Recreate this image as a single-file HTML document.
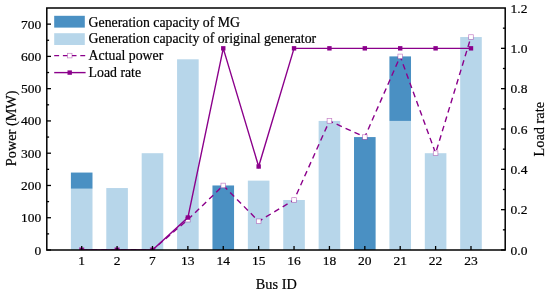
<!DOCTYPE html>
<html><head><meta charset="utf-8"><title>chart</title>
<style>
html,body{margin:0;padding:0;background:#fff;}
svg{display:block}
text{font-family:"Liberation Serif","Times New Roman",serif;font-size:13.5px;fill:#000;stroke:#000;stroke-width:0.2px}
.lg{font-size:13.8px}
.ax{font-size:14.3px}
</style></head><body>
<svg width="550" height="292" viewBox="0 0 550 292">
<rect width="550" height="292" fill="#fff"/>
<defs><clipPath id="c"><rect x="46.8" y="8.0" width="458.4" height="242.0"/></clipPath></defs>

<rect x="70.90" y="188.69" width="21.6" height="61.31" fill="#b7d6ea"/>
<rect x="70.90" y="172.56" width="21.6" height="16.13" fill="#4a90c3"/>
<rect x="106.29" y="188.05" width="21.6" height="61.95" fill="#b7d6ea"/>
<rect x="141.68" y="153.20" width="21.6" height="96.80" fill="#b7d6ea"/>
<rect x="177.07" y="59.30" width="21.6" height="190.70" fill="#b7d6ea"/>
<rect x="212.46" y="185.47" width="21.6" height="64.53" fill="#4a90c3"/>
<rect x="247.85" y="180.63" width="21.6" height="69.37" fill="#b7d6ea"/>
<rect x="283.24" y="199.99" width="21.6" height="50.01" fill="#b7d6ea"/>
<rect x="318.63" y="120.93" width="21.6" height="129.07" fill="#b7d6ea"/>
<rect x="354.02" y="137.07" width="21.6" height="112.93" fill="#4a90c3"/>
<rect x="389.41" y="120.93" width="21.6" height="129.07" fill="#b7d6ea"/>
<rect x="389.41" y="56.40" width="21.6" height="64.53" fill="#4a90c3"/>
<rect x="424.80" y="153.20" width="21.6" height="96.80" fill="#b7d6ea"/>
<rect x="460.19" y="37.04" width="21.6" height="212.96" fill="#b7d6ea"/>
<g clip-path="url(#c)">
<polyline points="81.70,250.00 117.09,250.00 152.48,250.00 187.87,219.67 223.26,185.47 258.65,221.28 294.04,199.99 329.43,120.93 364.82,137.07 400.21,56.40 435.60,153.20 470.99,37.04" fill="none" stroke="#8b008b" stroke-width="1.4" stroke-dasharray="5.7 4.1"/>
<rect x="79.40" y="247.70" width="4.6" height="4.6" fill="#fff" stroke="#8b008b" stroke-opacity="0.5" stroke-width="0.7"/>
<rect x="114.79" y="247.70" width="4.6" height="4.6" fill="#fff" stroke="#8b008b" stroke-opacity="0.5" stroke-width="0.7"/>
<rect x="150.18" y="247.70" width="4.6" height="4.6" fill="#fff" stroke="#8b008b" stroke-opacity="0.5" stroke-width="0.7"/>
<rect x="185.57" y="217.37" width="4.6" height="4.6" fill="#fff" stroke="#8b008b" stroke-opacity="0.5" stroke-width="0.7"/>
<rect x="220.96" y="183.17" width="4.6" height="4.6" fill="#fff" stroke="#8b008b" stroke-opacity="0.5" stroke-width="0.7"/>
<rect x="256.35" y="218.98" width="4.6" height="4.6" fill="#fff" stroke="#8b008b" stroke-opacity="0.5" stroke-width="0.7"/>
<rect x="291.74" y="197.69" width="4.6" height="4.6" fill="#fff" stroke="#8b008b" stroke-opacity="0.5" stroke-width="0.7"/>
<rect x="327.13" y="118.63" width="4.6" height="4.6" fill="#fff" stroke="#8b008b" stroke-opacity="0.5" stroke-width="0.7"/>
<rect x="362.52" y="134.77" width="4.6" height="4.6" fill="#fff" stroke="#8b008b" stroke-opacity="0.5" stroke-width="0.7"/>
<rect x="397.91" y="54.10" width="4.6" height="4.6" fill="#fff" stroke="#8b008b" stroke-opacity="0.5" stroke-width="0.7"/>
<rect x="433.30" y="150.90" width="4.6" height="4.6" fill="#fff" stroke="#8b008b" stroke-opacity="0.5" stroke-width="0.7"/>
<rect x="468.69" y="34.74" width="4.6" height="4.6" fill="#fff" stroke="#8b008b" stroke-opacity="0.5" stroke-width="0.7"/>
<polyline points="81.70,250.00 117.09,250.00 152.48,250.00 187.87,217.53 223.26,48.33 258.65,166.51 294.04,48.33 329.43,48.33 364.82,48.33 400.21,48.33 435.60,48.33 470.99,48.33" fill="none" stroke="#8b008b" stroke-width="1.4"/>
<rect x="79.50" y="247.80" width="4.4" height="4.4" fill="#8b008b"/>
<rect x="114.89" y="247.80" width="4.4" height="4.4" fill="#8b008b"/>
<rect x="150.28" y="247.80" width="4.4" height="4.4" fill="#8b008b"/>
<rect x="185.67" y="215.33" width="4.4" height="4.4" fill="#8b008b"/>
<rect x="221.06" y="46.13" width="4.4" height="4.4" fill="#8b008b"/>
<rect x="256.45" y="164.31" width="4.4" height="4.4" fill="#8b008b"/>
<rect x="291.84" y="46.13" width="4.4" height="4.4" fill="#8b008b"/>
<rect x="327.23" y="46.13" width="4.4" height="4.4" fill="#8b008b"/>
<rect x="362.62" y="46.13" width="4.4" height="4.4" fill="#8b008b"/>
<rect x="398.01" y="46.13" width="4.4" height="4.4" fill="#8b008b"/>
<rect x="433.40" y="46.13" width="4.4" height="4.4" fill="#8b008b"/>
<rect x="468.79" y="46.13" width="4.4" height="4.4" fill="#8b008b"/>
</g>
<g stroke="#000" stroke-width="1.3" fill="none">
<line x1="46.8" y1="250.00" x2="51.0" y2="250.00"/>
<line x1="46.8" y1="233.87" x2="49.099999999999994" y2="233.87"/>
<line x1="46.8" y1="217.73" x2="51.0" y2="217.73"/>
<line x1="46.8" y1="201.60" x2="49.099999999999994" y2="201.60"/>
<line x1="46.8" y1="185.47" x2="51.0" y2="185.47"/>
<line x1="46.8" y1="169.33" x2="49.099999999999994" y2="169.33"/>
<line x1="46.8" y1="153.20" x2="51.0" y2="153.20"/>
<line x1="46.8" y1="137.07" x2="49.099999999999994" y2="137.07"/>
<line x1="46.8" y1="120.93" x2="51.0" y2="120.93"/>
<line x1="46.8" y1="104.80" x2="49.099999999999994" y2="104.80"/>
<line x1="46.8" y1="88.67" x2="51.0" y2="88.67"/>
<line x1="46.8" y1="72.53" x2="49.099999999999994" y2="72.53"/>
<line x1="46.8" y1="56.40" x2="51.0" y2="56.40"/>
<line x1="46.8" y1="40.27" x2="49.099999999999994" y2="40.27"/>
<line x1="46.8" y1="24.13" x2="51.0" y2="24.13"/>
<line x1="505.2" y1="250.00" x2="501.0" y2="250.00"/>
<line x1="505.2" y1="229.83" x2="502.9" y2="229.83"/>
<line x1="505.2" y1="209.67" x2="501.0" y2="209.67"/>
<line x1="505.2" y1="189.50" x2="502.9" y2="189.50"/>
<line x1="505.2" y1="169.33" x2="501.0" y2="169.33"/>
<line x1="505.2" y1="149.17" x2="502.9" y2="149.17"/>
<line x1="505.2" y1="129.00" x2="501.0" y2="129.00"/>
<line x1="505.2" y1="108.83" x2="502.9" y2="108.83"/>
<line x1="505.2" y1="88.67" x2="501.0" y2="88.67"/>
<line x1="505.2" y1="68.50" x2="502.9" y2="68.50"/>
<line x1="505.2" y1="48.33" x2="501.0" y2="48.33"/>
<line x1="505.2" y1="28.17" x2="502.9" y2="28.17"/>
<line x1="81.70" y1="250.0" x2="81.70" y2="246.0"/>
<line x1="117.09" y1="250.0" x2="117.09" y2="246.0"/>
<line x1="152.48" y1="250.0" x2="152.48" y2="246.0"/>
<line x1="187.87" y1="250.0" x2="187.87" y2="246.0"/>
<line x1="223.26" y1="250.0" x2="223.26" y2="246.0"/>
<line x1="258.65" y1="250.0" x2="258.65" y2="246.0"/>
<line x1="294.04" y1="250.0" x2="294.04" y2="246.0"/>
<line x1="329.43" y1="250.0" x2="329.43" y2="246.0"/>
<line x1="364.82" y1="250.0" x2="364.82" y2="246.0"/>
<line x1="400.21" y1="250.0" x2="400.21" y2="246.0"/>
<line x1="435.60" y1="250.0" x2="435.60" y2="246.0"/>
<line x1="470.99" y1="250.0" x2="470.99" y2="246.0"/>
</g>
<rect x="46.8" y="8.0" width="458.4" height="242.0" fill="none" stroke="#000" stroke-width="1.5"/>
<text x="41.2" y="254.50" text-anchor="end">0</text>
<text x="41.2" y="222.23" text-anchor="end">100</text>
<text x="41.2" y="189.97" text-anchor="end">200</text>
<text x="41.2" y="157.70" text-anchor="end">300</text>
<text x="41.2" y="125.43" text-anchor="end">400</text>
<text x="41.2" y="93.17" text-anchor="end">500</text>
<text x="41.2" y="60.90" text-anchor="end">600</text>
<text x="41.2" y="28.63" text-anchor="end">700</text>
<text x="510.6" y="254.50">0.0</text>
<text x="510.6" y="214.17">0.2</text>
<text x="510.6" y="173.83">0.4</text>
<text x="510.6" y="133.50">0.6</text>
<text x="510.6" y="93.17">0.8</text>
<text x="510.6" y="52.83">1.0</text>
<text x="510.6" y="12.50">1.2</text>
<text x="81.70" y="265.4" text-anchor="middle">1</text>
<text x="117.09" y="265.4" text-anchor="middle">2</text>
<text x="152.48" y="265.4" text-anchor="middle">7</text>
<text x="187.87" y="265.4" text-anchor="middle">13</text>
<text x="223.26" y="265.4" text-anchor="middle">14</text>
<text x="258.65" y="265.4" text-anchor="middle">15</text>
<text x="294.04" y="265.4" text-anchor="middle">16</text>
<text x="329.43" y="265.4" text-anchor="middle">18</text>
<text x="364.82" y="265.4" text-anchor="middle">20</text>
<text x="400.21" y="265.4" text-anchor="middle">21</text>
<text x="435.60" y="265.4" text-anchor="middle">22</text>
<text x="470.99" y="265.4" text-anchor="middle">23</text>
<text class="ax" x="276.3" y="288.5" text-anchor="middle">Bus ID</text>
<text class="ax" transform="translate(16.2,128.3) rotate(-90)" text-anchor="middle">Power (MW)</text>
<text class="ax" transform="translate(544.2,129.2) rotate(-90)" text-anchor="middle">Load rate</text>
<rect x="54.2" y="15.8" width="30.6" height="11.8" fill="#4a90c3"/>
<rect x="54.2" y="33.2" width="30.6" height="11.8" fill="#b7d6ea"/>
<line x1="54.2" y1="55.6" x2="85.6" y2="55.6" stroke="#8b008b" stroke-width="1.4" stroke-dasharray="4.9 3.8"/>
<rect x="67.4" y="53.3" width="4.6" height="4.6" fill="#fff" stroke="#8b008b" stroke-opacity="0.5" stroke-width="0.7"/>
<line x1="54.2" y1="72.6" x2="85.6" y2="72.6" stroke="#8b008b" stroke-width="1.4"/>
<rect x="67.5" y="70.4" width="4.4" height="4.4" fill="#8b008b"/>
<text class="lg" x="88.6" y="26.50">Generation capacity of MG</text>
<text class="lg" x="88.6" y="43.25">Generation capacity of original generator</text>
<text class="lg" x="88.6" y="60.00">Actual power</text>
<text class="lg" x="88.6" y="76.75">Load rate</text>
</svg></body></html>
